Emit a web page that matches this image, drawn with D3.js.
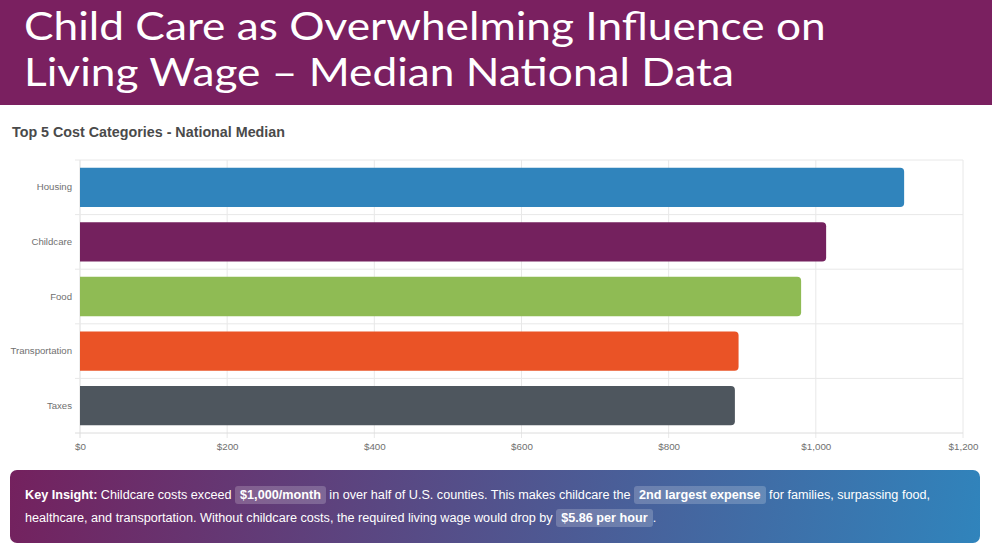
<!DOCTYPE html>
<html>
<head>
<meta charset="utf-8">
<script src="https://cdn.jsdelivr.net/npm/d3@7"></script>
<style>
  body { margin: 0; background: #fff; width: 992px; height: 553px; overflow: hidden; position: relative; }
  #chart { position: absolute; left: 0; top: 0; }
  .insight {
    position: absolute; left: 10px; top: 470px; width: 970px; height: 73px;
    box-sizing: border-box; padding: 14px 15px 0 15px;
    border-radius: 7px;
    background: linear-gradient(100deg, #74215e 0%, #3084bc 100%);
    color: #fff; font-family: "Liberation Sans", Arial, sans-serif; font-size: 12.65px; line-height: 23px;
  }
  .insight b { font-weight: bold; }
  .hl { background: rgba(255,255,255,0.2); border-radius: 3px; padding: 2px 5px; font-weight: bold; }
</style>
</head>
<body>
<svg id="chart" width="992" height="553"></svg>
<div class="insight" id="insight"></div>
<script>
// data
var categories = ["Housing", "Childcare", "Food", "Transportation", "Taxes"];
var values = [1120, 1014, 980, 895, 890];
var colors = ["#3084bc", "#74215e", "#8fbb54", "#ea5326", "#4e565e"];
var xTicks = [0, 200, 400, 600, 800, 1000, 1200];
var headerLines = ["Child Care as Overwhelming Influence on", "Living Wage \u2013 Median National Data"];
var chartTitle = "Top 5 Cost Categories - National Median";

var svg = d3.select("#chart");

// header band
svg.append("rect")
    .attr("x", 0).attr("y", 0)
    .attr("width", 992).attr("height", 105)
    .attr("fill", "#7a2060");

// header text, squeezed horizontally so line 1 spans ~802px
var head = svg.append("g");
headerLines.forEach(function(t, i) {
  head.append("text")
      .attr("y", 40 + i * 46)
      .attr("fill", "#fff")
      .style("font-family", "Lato, 'Open Sans', sans-serif")
      .style("font-size", "39px")
      .text(t);
});
var w0 = head.select("text").node().getComputedTextLength();
head.attr("transform", "translate(24,0) scale(" + (802 / w0) + ",1)");

// sub title
svg.append("text")
    .attr("x", 12).attr("y", 137)
    .attr("fill", "#4a4a4a")
    .style("font-family", "'Liberation Sans', Arial, sans-serif")
    .style("font-weight", "bold")
    .style("font-size", "14.3px")
    .text(chartTitle);

// plot area
var margin = {top: 160, left: 80},
    width = 883,
    height = 273;

var g = svg.append("g")
    .attr("transform", "translate(" + margin.left + "," + margin.top + ")");

var x = d3.scaleLinear().domain([0, 1200]).range([0, width]);
var y = d3.scaleBand().domain(categories).range([0, height]).paddingInner(0).paddingOuter(0);

// grid: vertical
g.append("g")
    .selectAll("line")
    .data(xTicks)
  .enter().append("line")
    .attr("x1", function(d) { return x(d); })
    .attr("x2", function(d) { return x(d); })
    .attr("y1", 0)
    .attr("y2", height + 5)
    .attr("stroke", function(d) { return d === 0 ? "#dcdcdc" : "#e8e8e8"; })
    .attr("stroke-width", 1);

// grid: horizontal (band edges)
var hLines = categories.map(function(c) { return y(c); }).concat([height]);
g.append("g")
    .selectAll("line")
    .data(hLines)
  .enter().append("line")
    .attr("x1", -5)
    .attr("x2", width)
    .attr("y1", function(d) { return d; })
    .attr("y2", function(d) { return d; })
    .attr("stroke", function(d) { return d === height ? "#dcdcdc" : "#e8e8e8"; })
    .attr("stroke-width", 1);

// bars (rounded at the end)
var bh = y.bandwidth() * 0.72;
function barPath(d, i) {
  var y0 = y(categories[i]) + (y.bandwidth() - bh) / 2;
  var x1 = x(d), r = 4;
  return "M0," + y0 + "H" + (x1 - r) +
    "Q" + x1 + "," + y0 + " " + x1 + "," + (y0 + r) +
    "V" + (y0 + bh - r) +
    "Q" + x1 + "," + (y0 + bh) + " " + (x1 - r) + "," + (y0 + bh) +
    "H0Z";
}
g.selectAll(".bar")
    .data(values)
  .enter().append("path")
    .attr("class", "bar")
    .attr("d", barPath)
    .attr("fill", function(d, i) { return colors[i]; });

// x axis labels
var xAxis = g.append("g")
    .attr("transform", "translate(0," + height + ")")
    .call(d3.axisBottom(x).tickValues(xTicks).tickSize(0).tickPadding(10)
      .tickFormat(function(d) { return "$" + d3.format(",")(d); }));
xAxis.select(".domain").remove();
xAxis.selectAll("text")
    .attr("fill", "#707070")
    .style("font-family", "'Liberation Sans', Arial, sans-serif")
    .style("font-size", "9.8px");

// y axis labels
var yAxis = g.append("g")
    .call(d3.axisLeft(y).tickSize(0).tickPadding(8));
yAxis.select(".domain").remove();
yAxis.selectAll("text")
    .attr("fill", "#707070")
    .style("font-family", "'Liberation Sans', Arial, sans-serif")
    .style("font-size", "9.6px");

// insight box
d3.select("#insight").html(
  "<b>Key Insight:</b> Childcare costs exceed <span class='hl'>$1,000/month</span> in over half of U.S. counties. " +
  "This makes childcare the <span class='hl'>2nd largest expense</span> for families, surpassing food,<br>" +
  "healthcare, and transportation. Without childcare costs, the required living wage would drop by " +
  "<span class='hl'>$5.86 per hour</span>."
);
</script>
</body>
</html>
